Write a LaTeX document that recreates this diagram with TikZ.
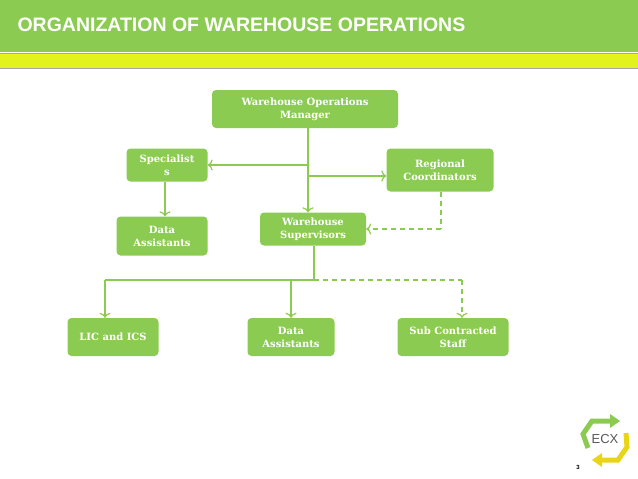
\documentclass[tikz,border=0pt]{standalone}
\usepackage{fontspec}
\usetikzlibrary{arrows.meta}
\setmainfont{DejaVu Serif}
\newfontfamily\hd{Liberation Sans}
\begin{document}
\begin{tikzpicture}[x=1pt,y=-1pt,
 box/.style={draw=none,fill=gr,rounded corners=4pt,text=white,font=\bfseries\fontsize{10}{13}\selectfont,align=center,inner sep=0pt},
 ln/.style={draw=gr,line width=1.2pt},
 ar/.style={ln,-{To[length=5pt,width=11pt]}},
 ds/.style={dash pattern=on 5pt off 4pt}]
\definecolor{gr}{HTML}{8CCB52}
\definecolor{yl}{HTML}{E2F21C}
\useasboundingbox (0,0) rectangle (638,479);
\fill[white] (0,0) rectangle (638,479);
\fill[gr] (0,0) rectangle (638,52);
\draw[fill=yl,draw=gray!70] (-1,53) rectangle (639,68);
\node[anchor=west,text=white,font=\hd\bfseries\fontsize{19.5}{21}\selectfont] (title) at (14,25) {ORGANIZATION OF WAREHOUSE OPERATIONS};
\node[box,minimum width=186pt,minimum height=38pt] (wom) at (305,109) {Warehouse Operations\\Manager};
\node[box,minimum width=81pt,minimum height=33pt] (spec) at (167,165) {Specialist\\s};
\node[box,minimum width=107pt,minimum height=43pt] (reg) at (440,170) {Regional\\Coordinators};
\node[box,minimum width=91pt,minimum height=39pt] (da1) at (162,236) {Data\\Assistants};
\node[box,minimum width=106pt,minimum height=33pt] (sup) at (313,229) {Warehouse\\Supervisors};
\node[box,minimum width=91pt,minimum height=38pt] (lic) at (113,337) {LIC and ICS};
\node[box,minimum width=87pt,minimum height=38pt] (da2) at (291,337) {Data\\Assistants};
\node[box,minimum width=111pt,minimum height=38pt] (sub) at (453,337) {Sub Contracted\\Staff};
\coordinate (a) at (308,165);
\coordinate (b) at (308,176);
\coordinate (c) at (314,280);
\coordinate (d) at (105,280);
\coordinate (e) at (291,280);
\coordinate (f) at (462,280);
\coordinate (g) at (441,229);
\coordinate (h) at (165,0);
\draw[ar] (wom.south -| a) -- (sup.north -| a);
\draw[ar] (a) -- (spec.east |- a);
\draw[ar] (b) -- (reg.west |- b);
\draw[ar] (spec.south -| h) -- (da1.north -| h);
\draw[ln,ds] (reg.south -| g) -- (g);
\draw[ar,ds] (g) -- (sup.east |- g);
\draw[ln] (sup.south -| c) -- (c) -- (d);
\draw[ar] (d) -- (lic.north -| d);
\draw[ar] (e) -- (da2.north -| e);
\draw[ln,ds] (c) -- (f);
\draw[ar,ds] (f) -- (sub.north -| f);
% logo
\draw[line width=5pt,gr] (588,448) -- (583,434) -- (592,421) -- (612,421);
\fill[gr] (610,414) -- (620,421) -- (610,428) -- cycle;
\draw[line width=5pt,yl!75!orange] (626,433) -- (627,447) -- (618,460) -- (600,460);
\fill[yl!75!orange] (602,453) -- (592,460) -- (602,467) -- cycle;
\node[font=\hd\fontsize{13}{13}\selectfont,text=gray!70!black] (ecx) at (605,439) {ECX};
\node[font=\hd\bfseries\fontsize{6}{6}\selectfont] (num) at (578,467) {3};
\end{tikzpicture}
\end{document}
